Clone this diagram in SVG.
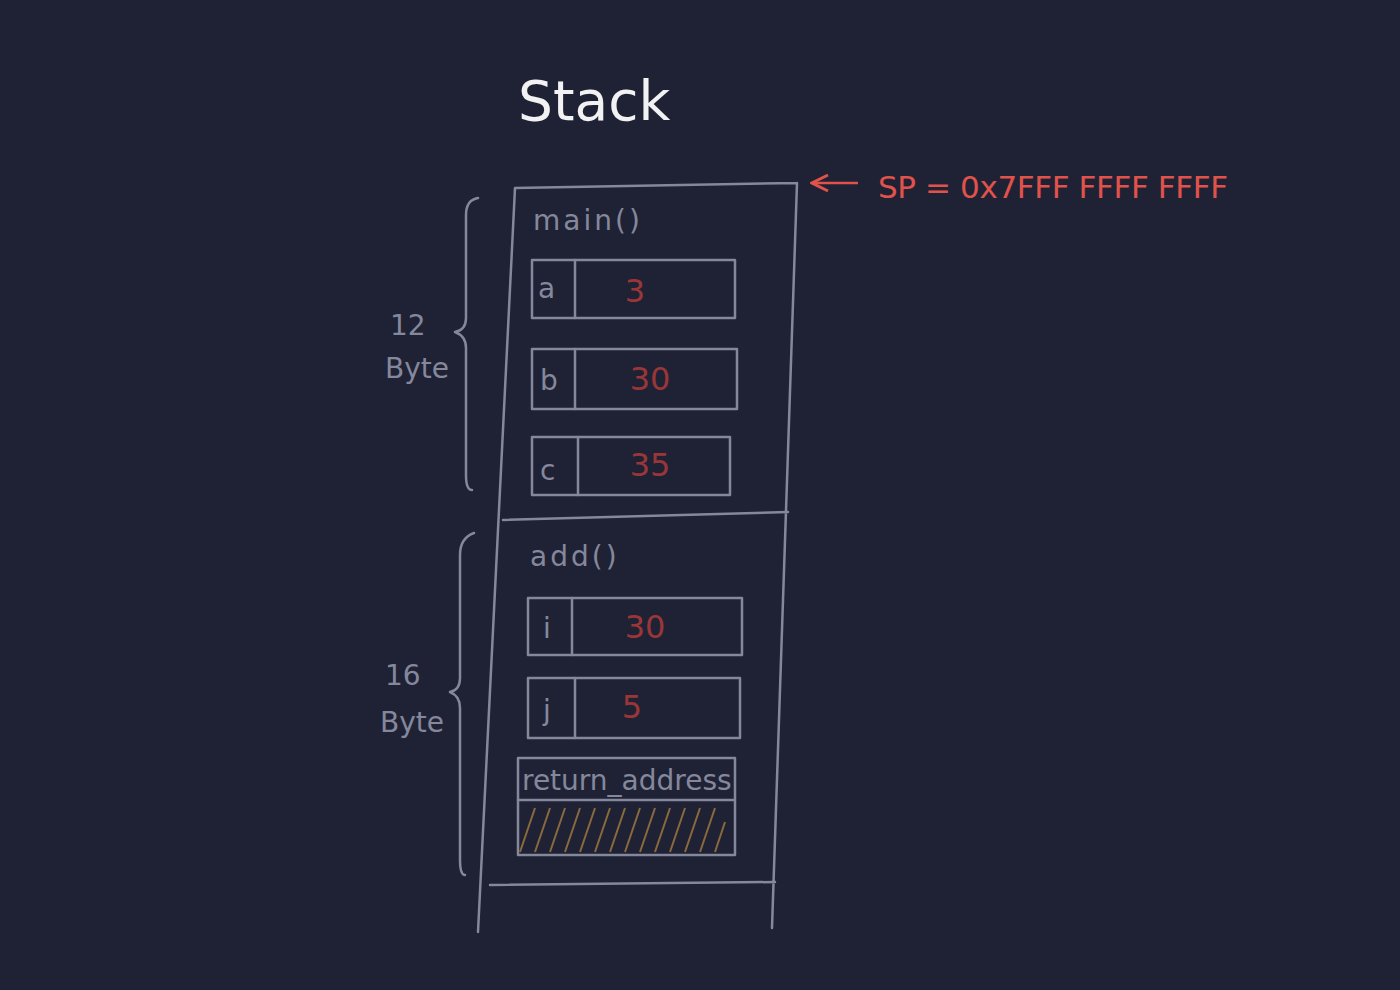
<svg xmlns="http://www.w3.org/2000/svg" width="1400" height="990" viewBox="0 0 1400 990">
<defs>
<style>
.ln{fill:none;stroke:#85889c;stroke-width:2.5;stroke-linecap:round;stroke-linejoin:round}
.lb{font-family:"DejaVu Sans",sans-serif;fill:#85889c;font-size:28px}
.v{font-family:"DejaVu Sans",sans-serif;fill:#9a3638;font-size:32px;text-anchor:middle}
.hat{stroke:#8a6a3c;stroke-width:2}
</style>
<marker id="ah" viewBox="0 0 10 10" refX="8" refY="5" markerWidth="8" markerHeight="8" orient="auto"><path d="M1 1 L9 5 L1 9" fill="none" stroke="#e0524a" stroke-width="1.5"/></marker>
</defs>
<rect width="1400" height="990" fill="#1f2235"/>
<text x="518" y="120" font-family="DejaVu Sans,sans-serif" font-size="55" fill="#f2f2f2">Stack</text>
<g id="stack">
<path class="ln" d="M515 188 L478 932 M797 183 L772 928 M515 188 L797 183 M503 520 L788 512 M490 885 L775 882"/>
</g>
<g id="main">
<text class="lb" x="533" y="230" letter-spacing="3">main()</text>
<g id="a"><rect class="ln" x="532" y="260" width="203" height="58"/><line class="ln" x1="575" y1="260" x2="575" y2="318"/><text class="lb" x="538" y="298">a</text><text class="v" x="635" y="302">3</text></g>
<g id="b"><rect class="ln" x="532" y="349" width="205" height="60"/><line class="ln" x1="575" y1="349" x2="575" y2="409"/><text class="lb" x="540" y="390">b</text><text class="v" x="650" y="390">30</text></g>
<g id="c"><rect class="ln" x="532" y="437" width="198" height="58"/><line class="ln" x1="578" y1="437" x2="578" y2="495"/><text class="lb" x="540" y="480">c</text><text class="v" x="650" y="476">35</text></g>
</g>
<g id="add">
<text class="lb" x="530" y="566" letter-spacing="3">add()</text>
<g id="i"><rect class="ln" x="528" y="598" width="214" height="57"/><line class="ln" x1="572" y1="598" x2="572" y2="655"/><text class="lb" x="543" y="638">i</text><text class="v" x="645" y="638">30</text></g>
<g id="j"><rect class="ln" x="528" y="678" width="212" height="60"/><line class="ln" x1="575" y1="678" x2="575" y2="738"/><text class="lb" x="543" y="720">j</text><text class="v" x="632" y="718">5</text></g>
<g id="ret"><rect class="ln" x="518" y="758" width="217" height="97"/><line class="ln" x1="518" y1="800" x2="735" y2="800"/><text class="lb" x="522" y="790" font-size="25">return_address</text>
<g class="hat"><line x1="520" y1="852" x2="535" y2="808"/><line x1="535" y1="852" x2="550" y2="808"/><line x1="550" y1="852" x2="565" y2="808"/><line x1="565" y1="852" x2="580" y2="808"/><line x1="580" y1="852" x2="595" y2="808"/><line x1="595" y1="852" x2="610" y2="808"/><line x1="610" y1="852" x2="625" y2="808"/><line x1="625" y1="852" x2="640" y2="808"/><line x1="640" y1="852" x2="655" y2="808"/><line x1="655" y1="852" x2="670" y2="808"/><line x1="670" y1="852" x2="685" y2="808"/><line x1="685" y1="852" x2="700" y2="808"/><line x1="700" y1="852" x2="715" y2="808"/><line x1="715" y1="852" x2="725" y2="822"/></g></g>
</g>
<g id="brace1"><path class="ln" d="M478 198 Q466 200 466 215 L466 318 Q466 330 455 332 Q466 336 466 348 L466 475 Q466 490 472 490"/><text class="lb" x="390" y="335">12</text><text class="lb" x="385" y="378">Byte</text></g>
<g id="brace2"><path class="ln" d="M474 533 Q460 538 460 555 L460 678 Q460 690 450 692 Q460 696 460 708 L460 860 Q460 875 465 875"/><text class="lb" x="385" y="685">16</text><text class="lb" x="380" y="732">Byte</text></g>
<g id="connectors"><line x1="858" y1="183" x2="814" y2="183" stroke="#e0524a" stroke-width="2.5" marker-end="url(#ah)"/></g>
<text x="878" y="198" font-family="DejaVu Sans,sans-serif" font-size="31" fill="#e0524a" textLength="350">SP = 0x7FFF FFFF FFFF</text>
</svg>
